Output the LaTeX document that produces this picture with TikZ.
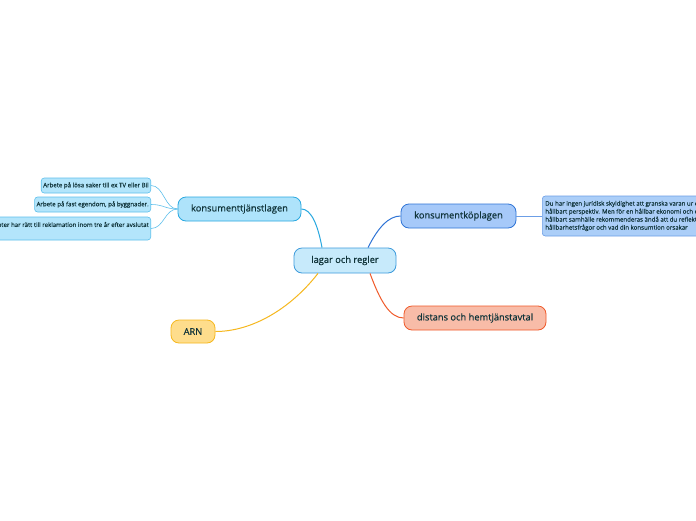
\documentclass[tikz,border=0pt]{standalone}
\usepackage{fontspec}
\setmainfont{Open Sans}
\newfontfamily\medfont{Open Sans}[FakeBold=0.6]
\newfontfamily\leaffont{Open Sans}[FakeBold=0.3]
\usetikzlibrary{calc}
\definecolor{txt}{HTML}{10343A}
\definecolor{cfill}{HTML}{C7EAFB}\definecolor{cdraw}{HTML}{3D9BDC}
\definecolor{tfill}{HTML}{AEE3FB}\definecolor{tdraw}{HTML}{29A8E0}
\definecolor{kfill}{HTML}{A6C9F9}\definecolor{kdraw}{HTML}{2F74D6}
\definecolor{lkfill}{HTML}{ABCEF8}\definecolor{lkdraw}{HTML}{6C9EE6}
\definecolor{dfill}{HTML}{F8BCA8}\definecolor{ddraw}{HTML}{F05A2A}
\definecolor{afill}{HTML}{FEDD8C}\definecolor{adraw}{HTML}{F6B81E}
\definecolor{ltfill}{HTML}{B3E5FB}\definecolor{ltdraw}{HTML}{5EC0EC}
\tikzset{
  mainnode/.style={draw, line width=0.8pt, rounded corners=8pt, text=txt,
    font=\medfont\fontsize{9.3}{11}\selectfont, inner sep=0pt, minimum height=24pt},
  leafnode/.style={draw, line width=0.6pt, rounded corners=3pt, text=txt,
    font=\leaffont\fontsize{6.1}{8}\selectfont, inner sep=2pt, align=left},
  conn/.style={line width=1pt},
  lconn/.style={line width=0.6pt, ltdraw},
}
\begin{document}
\begin{tikzpicture}[x=1pt,y=-1pt]
\useasboundingbox (0,0) rectangle (696,520);
\clip (0,0) rectangle (696,520);
\fill[white] (0,0) rectangle (696,520);

\node[mainnode, fill=cfill, draw=cdraw, minimum width=102pt, minimum height=25pt] (c) at (345,260.5) {lagar och regler};
\node[mainnode, fill=tfill, draw=tdraw, minimum width=123pt] (t) at (239.5,209) {konsumenttjänstlagen};
\node[mainnode, fill=kfill, draw=kdraw, minimum width=115pt] (k) at (458.5,216) {konsumentköplagen};
\node[mainnode, fill=dfill, draw=ddraw, minimum width=142pt] (d) at (475,318) {distans och hemtjänstavtal};
\node[mainnode, fill=afill, draw=adraw, minimum width=44pt, minimum height=23pt] (a) at (193,331.5) {ARN};

\node[leafnode, fill=ltfill, draw=ltdraw, minimum height=15pt, anchor=east] (l1) at (151,185.5) {Arbete på lösa saker till ex TV eller Bil};
\node[leafnode, fill=ltfill, draw=ltdraw, minimum height=15pt, anchor=east] (l2) at (151,204.5) {Arbete på fast egendom, på byggnader.};
\node[leafnode, fill=ltfill, draw=ltdraw, minimum height=23pt, anchor=east, inner ysep=3pt] (l3) at (151,228.5) {Konsumenter har rätt till reklamation inom tre år efter avslutat\\arbete.};

\node[leafnode, fill=lkfill, draw=lkdraw, anchor=west, minimum height=40pt, inner xsep=3pt] (r) at (542,216) {Du har ingen juridisk skyldighet att granska varan ur ett\\hållbart perspektiv. Men för en hållbar ekonomi och ett\\hållbart samhälle rekommenderas ändå att du reflekterar över\\hållbarhetsfrågor och vad din konsumtion orsakar};

% main connectors
\draw[conn, tdraw] ([xshift=-23pt]c.north) .. controls +(-4,-22) and +(10,0) .. (t.east);
\draw[conn, kdraw] ([xshift=23pt]c.north) .. controls +(10,-20) and +(-12,0) .. (k.west);
\draw[conn, ddraw] ([xshift=25pt]c.south) .. controls +(10,27) and +(-14,0) .. (d.west);
\draw[conn, adraw] ([xshift=-27pt]c.south) .. controls +(-28,36) and +(36,0) .. (a.east);

% leaf connectors
\draw[lconn, lkdraw] (k.east) -- (r.west);
\draw[lconn] (t.west) .. controls +(-13,0) and +(13,0) .. (l1.east);
\draw[lconn] (t.west) .. controls +(-13,0) and +(13,0) .. (l2.east);
\draw[lconn] (t.west) .. controls +(-13,0) and +(13,0) .. (l3.east);
\end{tikzpicture}
\end{document}
